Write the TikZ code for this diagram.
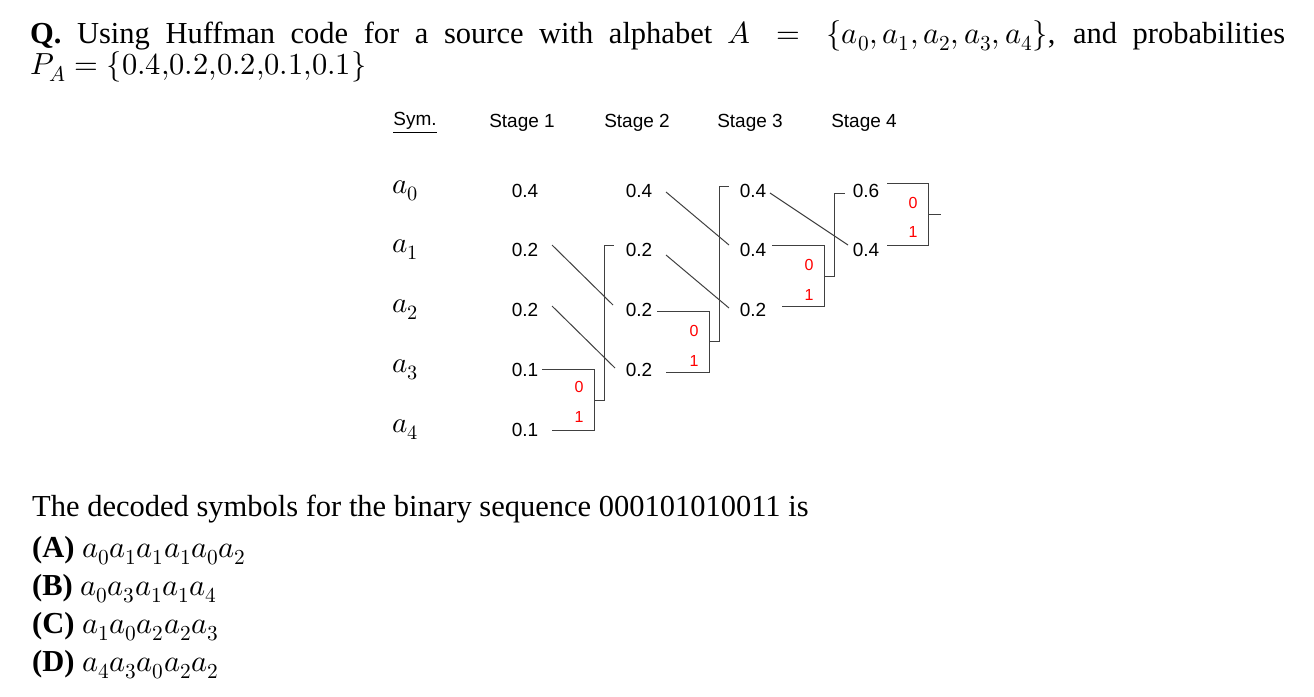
\documentclass[tikz,border=0pt]{standalone}
\usepackage{fontspec}
\usepackage{unicode-math}
\setmainfont{Liberation Serif}
\setmathfont{Latin Modern Math}
\newfontfamily\arial{Liberation Sans}
\begin{document}
\begin{tikzpicture}[x=1pt,y=-1pt,
 num/.style={font=\arial\fontsize{19}{21}\selectfont},
 sym/.style={font=\fontsize{29}{30}\selectfont},
 bit/.style={font=\arial\fontsize{16}{18}\selectfont,text=red},
 ln/.style={draw=black!75,line width=1pt},
 body/.style={font=\fontsize{30.5}{31}\selectfont,anchor=base west,inner sep=0pt}]
\useasboundingbox (0,0) rectangle (1314,696);
\node[body,anchor=north west,text width=1255pt,align=justify] (title) at (30,20)
 {\textbf{Q.} Using Huffman code for a source with alphabet {$A=\{a_0,a_1,a_2,a_3,a_4\}$}, and probabilities\linebreak {$P_A=\{0.4,\!0.2,\!0.2,\!0.1,\!0.1\}$}};
% headers
\node[num] (h0) at (415,123) {\underline{Sym.}};
\node[num] (h1) at (522,123) {Stage 1};
\node[num] (h2) at (637,123) {Stage 2};
\node[num] (h3) at (750,123) {Stage 3};
\node[num] (h4) at (864,123) {Stage 4};
% symbols
\foreach \i/\y in {0/191,1/250,2/310,3/370,4/430}{\node[sym] (s\i) at (405,\y) {$a_\i$};}
% numbers
\foreach \n/\x/\y/\v in {a0/525/191/0.4,a1/525/250/0.2,a2/525/310/0.2,a3/525/370/0.1,a4/525/430/0.1,
 b0/639/191/0.4,b1/639/250/0.2,b2/639/310/0.2,b3/639/370/0.2,
 c0/753/191/0.4,c1/753/250/0.4,c2/753/310/0.2,
 d0/866/191/0.6,d1/866/250/0.4}{\node[num] (\n) at (\x,\y) {\v};}
% stage 1
\draw[ln] (542,369) -| (594,430) -- (552,430);
\draw[ln] (594,400) -- (604,400) |- (614,245);
\draw[ln] (552,245) -- (613,305);
\draw[ln] (552,306) -- (615,368);
\node[bit] (z1) at (579,387) {0}; \node[bit] (o1) at (579,417) {1};
% stage 2
\draw[ln] (657,311) -| (709,372) -- (666,372);
\draw[ln] (709,341) -- (719,341) |- (729,186);
\draw[ln] (666,192) -- (729,245);
\draw[ln] (666,255) -- (729,308);
\node[bit] (z2) at (694,331) {0}; \node[bit] (o2) at (694,361) {1};
% stage 3
\draw[ln] (772,245) -| (824,306) -- (782,306);
\draw[ln] (824,276) -- (834,276) |- (845,193);
\draw[ln] (770,193) -- (848,245);
\node[bit] (z3) at (809,265) {0}; \node[bit] (o3) at (809,295) {1};
% stage 4
\draw[ln] (887,183) -| (928,245) -- (887,245);
\draw[ln] (928,214) -- (941,214);
\node[bit] (z4) at (913,203) {0}; \node[bit] (o4) at (913,232) {1};
% bottom text
\node[body] (q) at (32,516) {The decoded symbols for the binary sequence 000101010011 is};
\node[body] (A) at (32,557) {\textbf{(A)} $a_0a_1a_1a_1a_0a_2$};
\node[body] (B) at (32,595) {\textbf{(B)} $a_0a_3a_1a_1a_4$};
\node[body] (C) at (32,633) {\textbf{(C)} $a_1a_0a_2a_2a_3$};
\node[body] (D) at (32,671) {\textbf{(D)} $a_4a_3a_0a_2a_2$};
\end{tikzpicture}
\end{document}
